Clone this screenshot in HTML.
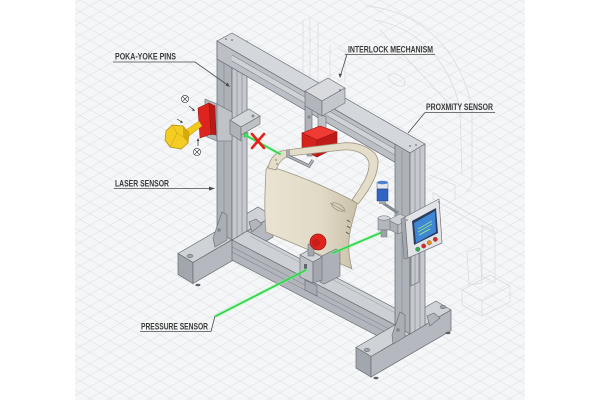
<!DOCTYPE html>
<html><head><meta charset="utf-8"><style>
html,body{margin:0;padding:0;background:#fff;}
svg{display:block;}
text{font-family:"Liberation Sans",sans-serif;font-weight:bold;fill:#3a3a3a;}
</style></head><body>
<svg width="600" height="400" viewBox="0 0 600 400" xmlns="http://www.w3.org/2000/svg">
<defs>
<pattern id="grid" width="20" height="11.547" patternUnits="userSpaceOnUse">
<path d="M0,0 L20,11.547 M0,11.547 L20,0" stroke="#dfe1e4" stroke-width="0.6" fill="none"/>
</pattern>
<linearGradient id="door" x1="265" y1="0" x2="358" y2="0" gradientUnits="userSpaceOnUse">
<stop offset="0" stop-color="#e9e3d2"/><stop offset="0.6" stop-color="#e1dac6"/><stop offset="1" stop-color="#c9c0a7"/>
</linearGradient>
</defs>
<rect x="0" y="0" width="600" height="400" fill="#ffffff"/>
<rect x="75" y="0" width="450" height="400" fill="#f5f6f7"/>
<rect x="75" y="0" width="450" height="400" fill="url(#grid)"/>

<!-- ghost background drawings -->
<g fill="none" stroke="#d9dce0" stroke-width="0.8">
<path d="M365,6 C420,10 462,50 472,110 L472,185 L466,192"/>
<path d="M375,20 C420,28 452,66 460,110 L462,175"/>
<path d="M380,30 L455,110"/>
<ellipse cx="397" cy="80" rx="9" ry="5" transform="rotate(30 397 80)"/>
<path d="M303,20 L303,85 M310,18 L310,88 M318,22 L318,86 M330,45 L330,80 M345,50 L345,82 M338,48 L350,55"/>
<path d="M433,193 L493,227 L493,233 L433,199 Z"/>
<path d="M482,225 L495,232 L495,283 L482,276 Z"/>
<path d="M467,252 L480,248 L482,283 L469,285 Z"/>
<path d="M462,290 L490,275 L510,286 L510,302 L482,316 L462,305 Z M462,290 L482,301 L510,286 M482,301 L482,316"/>
<path d="M430,175 L455,185 L455,200"/>
</g>

<!-- LEFT FOOT -->
<polygon points="178,253.5 193,262.5 273,216 258,207" fill="#cfd2d6" stroke="#666b72" stroke-width="0.7"/>
<polygon points="178,253.5 193,262.5 193,283.5 178,274.5" fill="#a2a7ae" stroke="#666b72" stroke-width="0.7"/>
<polygon points="193,262.5 273,216 273,237 193,283.5" fill="#b5b9bf" stroke="#666b72" stroke-width="0.7"/>
<ellipse cx="190" cy="256" rx="3" ry="1.8" fill="#9ea3a9" stroke="#60656c" stroke-width="0.5"/>
<ellipse cx="198" cy="285" rx="2.5" ry="1.2" fill="#5d6268"/>

<!-- BOTTOM RAIL -->
<polygon points="232,240 247,231 410,316 395,325" fill="#cdd0d4" stroke="#666b72" stroke-width="0.7"/>
<polygon points="232,240 395,325 395,345 232,260" fill="#b2b6bc" stroke="#666b72" stroke-width="0.7"/>
<path d="M232,247 L395,332 M232,252 L395,337" stroke="#81868d" stroke-width="0.6"/>
<path d="M250,236 L405,318" stroke="#a1a6ac" stroke-width="0.6"/>

<!-- LEFT POST -->
<polygon points="217,41 232,50 232,240 217,231" fill="#adb2b9" stroke="#666b72" stroke-width="0.7"/>
<polygon points="232,50 247,41 247,231 232,240" fill="#c5c9ce" stroke="#666b72" stroke-width="0.7"/>
<path d="M224,46 L224,236 M237,48 L237,238 M242,45 L242,235" stroke="#81868d" stroke-width="0.6"/>
<polygon points="222,212 227,215 227,240 215,247 213,238" fill="#aaaeb5" stroke="#666b72" stroke-width="0.6"/>
<circle cx="219" cy="230" r="1.8" fill="#81868d"/>
<polygon points="249,222 256,219 262,224 252,232" fill="#b3b7bd" stroke="#666b72" stroke-width="0.6"/>

<!-- TOP BEAM -->
<polygon points="217,41 232,33 425,144 410,153" fill="#d4d7db" stroke="#666b72" stroke-width="0.7"/>
<polygon points="217,41 410,153 410,171 217,59" fill="#bcc0c6" stroke="#666b72" stroke-width="0.7"/>
<polygon points="232,55 395,149 395,155 232,61" fill="#cfd2d6"/>
<path d="M232,55 L395,149 M232,61 L395,155" stroke="#81868d" stroke-width="0.6"/>
<circle cx="226" cy="39" r="0.8" fill="#555"/><circle cx="232" cy="40" r="0.8" fill="#555"/>
<circle cx="410" cy="146" r="0.8" fill="#555"/><circle cx="416" cy="145" r="0.8" fill="#555"/>

<!-- POKA-YOKE BRACKET -->
<polygon points="205,99 217,104 217,141 205,136" fill="#b3b7bd" stroke="#666b72" stroke-width="0.6"/>
<polygon points="217,104 232,112 232,141 217,141" fill="#bfc3c8" stroke="#666b72" stroke-width="0.6"/>
<polygon points="230,120 249,109 260,116 241,127" fill="#d3d6d9" stroke="#666b72" stroke-width="0.6"/>
<polygon points="230,120 241,127 241,141 230,134" fill="#afb3b9" stroke="#666b72" stroke-width="0.6"/>
<polygon points="241,127 260,116 260,124 241,135" fill="#bec1c6" stroke="#666b72" stroke-width="0.6"/>
<circle cx="210" cy="105" r="1.4" fill="#737880"/><circle cx="211" cy="134" r="1.4" fill="#737880"/>
<circle cx="253" cy="116" r="1.5" fill="#848990"/>
<rect x="244" y="133" width="4" height="4" fill="#3fd456" stroke="#4a8f55" stroke-width="0.5"/>
<!-- red block -->
<polygon points="198,108 209,103 211,134 200,138" fill="#de241e" stroke="#9b1612" stroke-width="0.6"/>
<polygon points="209,103 215,106 216,135 211,134" fill="#b81a15" stroke="#9b1612" stroke-width="0.6"/>
<!-- yellow pin -->
<polygon points="186,130 199,121 202,126 189,136" fill="#f1c81b" stroke="#b58f08" stroke-width="0.5"/>
<polygon points="166,131 172,125 183,126 189,133 188,143 181,149 170,147 165,140" fill="#f3cd22" stroke="#b08a06" stroke-width="0.7"/>
<polygon points="183,126 189,133 188,143 183,137" fill="#d6a90c"/>
<path d="M172,125 L177,133 L183,137 M177,133 L170,147" stroke="#c39a0a" stroke-width="0.5" fill="none"/>
<!-- circled x marks & arrows -->
<g stroke="#333" stroke-width="0.6" fill="#fff">
<circle cx="185" cy="99" r="3.6"/><circle cx="197" cy="152" r="3.6"/>
</g>
<path d="M182.5,96.5 L187.5,101.5 M187.5,96.5 L182.5,101.5 M194.5,149.5 L199.5,154.5 M199.5,149.5 L194.5,154.5" stroke="#333" stroke-width="0.6"/>
<path d="M189,106 L194,110 M177,119 L182,122 M198,146 L198,140" stroke="#333" stroke-width="0.7"/>
<path d="M195,111 L192,110.5 L193.5,108.5 Z M183,123 L180,122.5 L181.5,120.5 Z M198,138 L196.8,141 L199.2,141 Z" fill="#333"/>

<!-- INTERLOCK CARRIAGE -->
<polygon points="305,106 312,110 312,136 305,132" fill="#b0b4ba" stroke="#666b72" stroke-width="0.6"/>
<polygon points="318,113 326,117 326,136 318,132" fill="#bec1c6" stroke="#666b72" stroke-width="0.6"/>
<polygon points="305,91 328,78 345,88 322,101" fill="#d8dade" stroke="#666b72" stroke-width="0.6"/>
<polygon points="305,91 322,101 322,116 305,106" fill="#b2b6bc" stroke="#666b72" stroke-width="0.6"/>
<polygon points="322,101 345,88 345,103 322,116" fill="#c4c7cc" stroke="#666b72" stroke-width="0.6"/>
<circle cx="309" cy="117" r="1.6" fill="#848990"/>
<circle cx="340" cy="90" r="0.8" fill="#555"/>
<!-- red interlock block -->
<polygon points="302,133 320,126 337,132 317,140" fill="#ef3b33" stroke="#9b1612" stroke-width="0.6"/>
<polygon points="302,133 317,140 317,157 302,150" fill="#d6221c" stroke="#9b1612" stroke-width="0.6"/>
<polygon points="317,140 337,132 337,147 317,157" fill="#c01c17" stroke="#9b1612" stroke-width="0.6"/>
<rect x="307" y="148" width="5" height="8" fill="#a3a8ae" stroke="#666b72" stroke-width="0.5"/>

<!-- DOOR -->
<path d="M266,170 L268,166 C290,172 330,188 357,203 C356,212 350,225 349,240 C348,252 350,262 352,269 C330,259 300,246 266,232 C264,210 265,190 266,170 Z" fill="url(#door)" stroke="#9d9580" stroke-width="0.8"/>
<path d="M268,168 C270,158 276,151 286,150 L342,143 C360,141 376,150 378,160 C379,176 368,192 358,204 L352,200 C360,188 370,175 369,163 C367,154 356,149 342,150 L290,156 C283,157 279,162 276,170 Z" fill="#e4ddca" stroke="#9d9580" stroke-width="0.8"/>
<path d="M268,168 L276,170" stroke="#9d9580" stroke-width="0.6"/>
<circle cx="276" cy="160" r="0.7" fill="#6d675a"/><circle cx="277" cy="164" r="0.7" fill="#6d675a"/>
<ellipse cx="338" cy="207" rx="7" ry="3" transform="rotate(28 338 207)" fill="none" stroke="#958d78" stroke-width="0.7"/>
<path d="M330,203 L346,212" stroke="#958d78" stroke-width="0.6"/>
<path d="M347,220 L350,222 M347,226 L350,228 M346,232 L349,234" stroke="#555" stroke-width="0.9"/>
<!-- U bracket -->
<path d="M288,150 L288,156 L309,166 L313,160" fill="none" stroke="#737980" stroke-width="3.2"/>
<path d="M288,150 L288,156 L309,166 L313,160" fill="none" stroke="#b3b7bd" stroke-width="1.6"/>

<!-- PRESSURE SENSOR BLOCK -->
<polygon points="320,257 336,249 340,251 340,276 324,284 320,282" fill="#adb1b7" stroke="#666b72" stroke-width="0.6"/>
<polygon points="305,280 317,286 317,296 305,290" fill="#a8acb2" stroke="#666b72" stroke-width="0.6"/>
<polygon points="300,255 309,250 322,257 313,262" fill="#d3d6d9" stroke="#666b72" stroke-width="0.6"/>
<polygon points="300,255 313,262 313,283 300,277" fill="#bdc0c5" stroke="#666b72" stroke-width="0.6"/>
<polygon points="313,262 322,257 322,280 313,283" fill="#a4a8ae" stroke="#666b72" stroke-width="0.6"/>
<rect x="304" y="264" width="3" height="5" fill="#60656c"/>
<rect x="308" y="244" width="6" height="12" fill="#a4a8ae" stroke="#60656c" stroke-width="0.5"/>
<circle cx="318" cy="242" r="8" fill="#e0241e" stroke="#9b1612" stroke-width="0.7"/>
<circle cx="316" cy="243" r="4" fill="#c81d18"/>

<!-- GREEN LASERS -->
<g stroke-linecap="round">
<path d="M247,136 L280,154" stroke="#8ff29a" stroke-width="3.5" opacity="0.5"/>
<path d="M247,136 L280,154" stroke="#2fd64a" stroke-width="1.6"/>
<path d="M216,316 L306,270" stroke="#8ff29a" stroke-width="3.5" opacity="0.5"/>
<path d="M216,316 L306,270" stroke="#2fd64a" stroke-width="1.6"/>
<path d="M333,253 L385,231" stroke="#8ff29a" stroke-width="3.5" opacity="0.5"/>
<path d="M333,253 L385,231" stroke="#2fd64a" stroke-width="1.6"/>
</g>
<path d="M252,134 L264,148 M264,134 L252,148" stroke="#e8201a" stroke-width="2.6" stroke-linecap="round"/>

<!-- RIGHT FOOT -->
<polygon points="356,347.5 371,356.5 451,310 436,301" fill="#cfd2d6" stroke="#666b72" stroke-width="0.7"/>
<polygon points="356,347.5 371,356.5 371,377 356,368" fill="#a2a7ae" stroke="#666b72" stroke-width="0.7"/>
<polygon points="371,356.5 451,310 451,330.5 371,377" fill="#b5b9bf" stroke="#666b72" stroke-width="0.7"/>
<ellipse cx="367" cy="350" rx="3" ry="1.8" fill="#9ea3a9" stroke="#60656c" stroke-width="0.5"/>
<ellipse cx="443" cy="307" rx="3" ry="1.8" fill="#9ea3a9" stroke="#60656c" stroke-width="0.5"/>
<ellipse cx="376" cy="378" rx="2.5" ry="1.2" fill="#5d6268"/><ellipse cx="448" cy="333" rx="2.5" ry="1.2" fill="#5d6268"/>

<!-- RIGHT POST -->
<polygon points="395,144 410,153 410,334 395,325" fill="#adb2b9" stroke="#666b72" stroke-width="0.7"/>
<polygon points="410,153 425,144 425,325 410,334" fill="#c5c9ce" stroke="#666b72" stroke-width="0.7"/>
<path d="M402,150 L402,329 M415,151 L415,331 M420,148 L420,328" stroke="#81868d" stroke-width="0.6"/>
<polygon points="400,312 405,315 405,337 393,344 392,335" fill="#aaaeb5" stroke="#666b72" stroke-width="0.6"/>
<circle cx="398" cy="330" r="1.8" fill="#81868d"/>
<polygon points="427,316 434,313 440,318 430,326" fill="#b3b7bd" stroke="#666b72" stroke-width="0.6"/>

<!-- PROXIMITY SENSOR -->
<path d="M383,203 L398,213" stroke="#858a91" stroke-width="3"/>
<rect x="377" y="182" width="11" height="7" rx="1" fill="#e4e7eb" stroke="#60656c" stroke-width="0.5"/>
<ellipse cx="382.5" cy="182.5" rx="5.5" ry="1.8" fill="#4d7fd0"/>
<rect x="377" y="189" width="11" height="12" fill="#2f64c2" stroke="#1f3f7c" stroke-width="0.5"/>
<rect x="379" y="201" width="7" height="3" fill="#9ea3a9"/>
<!-- lower sensor + arm -->
<polygon points="388,220 400,214 410,219 398,225" fill="#cfd2d6" stroke="#666b72" stroke-width="0.5"/>
<polygon points="388,220 398,225 398,234 388,229" fill="#adb1b7" stroke="#666b72" stroke-width="0.5"/>
<polygon points="398,225 410,219 410,228 398,234" fill="#bec1c6" stroke="#666b72" stroke-width="0.5"/>
<rect x="378" y="218" width="12" height="12" fill="#b3b7bd" stroke="#60656c" stroke-width="0.5"/>
<ellipse cx="384" cy="218" rx="6" ry="2.2" fill="#d5d8db" stroke="#60656c" stroke-width="0.5"/>
<rect x="381" y="230" width="6" height="7" fill="#9ea3a9" stroke="#60656c" stroke-width="0.4"/>

<!-- CONTROL PANEL -->
<path d="M411,256 L411,286 L419,282 L419,252" fill="none" stroke="#858a91" stroke-width="1"/>
<polygon points="401,219 405,217 408,258 404,259" fill="#a4a8ae" stroke="#666b72" stroke-width="0.5"/>
<polygon points="405,217 439,199 442,243 408,258" fill="#e1e3e6" stroke="#6d7279" stroke-width="0.7"/>
<polygon points="412,221 436,208 438,233 414,245" fill="#2b3d5c"/>
<polygon points="414,223 435,211 436,232 416,243" fill="#3f86d6"/>
<path d="M418,229 L432,221 M418,232 L432,224 M419,235 L430,229" stroke="#8fe08a" stroke-width="1"/>
<circle cx="417.8" cy="249.3" r="2.2" fill="#2fae4a" stroke="#555" stroke-width="0.4"/>
<circle cx="423.7" cy="246" r="2.2" fill="#d52a22" stroke="#555" stroke-width="0.4"/>
<circle cx="429.3" cy="242.7" r="2.2" fill="#f08a1a" stroke="#555" stroke-width="0.4"/>
<circle cx="435.3" cy="239.3" r="2.2" fill="#d52a22" stroke="#555" stroke-width="0.4"/>
<circle cx="407" cy="220" r="0.8" fill="#666"/><circle cx="439" cy="202" r="0.8" fill="#666"/>

<!-- LABELS -->
<g stroke="#4a4a4a" stroke-width="0.8" fill="none">
<path d="M113,62 L195,62 L229,86"/>
<path d="M345,54.5 L435,54.5 M347,54.5 L340,77"/>
<path d="M425,112.5 L495,112.5 M425,112.5 L408,133"/>
<path d="M114,188.5 L211,188.5"/>
<path d="M140,331.5 L211,331.5 L215,316"/>
</g>
<path d="M215,188.5 L209,186.5 L209,190.5 Z" fill="#4a4a4a"/>
<path d="M230,87 L225.5,85.5 L227.5,82.5 Z" fill="#4a4a4a"/>
<path d="M340,78 L338.5,73.5 L342,74 Z" fill="#4a4a4a"/>
<text x="115" y="59.5" font-size="9.6" textLength="61" lengthAdjust="spacingAndGlyphs">POKA-YOKE PINS</text>
<text x="348" y="52.5" font-size="9.6" textLength="85" lengthAdjust="spacingAndGlyphs">INTERLOCK MECHANISM</text>
<text x="426" y="110" font-size="9.6" textLength="67" lengthAdjust="spacingAndGlyphs">PROXMITY SENSOR</text>
<text x="115" y="186.3" font-size="9.6" textLength="54" lengthAdjust="spacingAndGlyphs">LASER SENSOR</text>
<text x="141" y="329.4" font-size="9.6" textLength="67" lengthAdjust="spacingAndGlyphs">PRESSURE SENSOR</text>
</svg>
</body></html>
